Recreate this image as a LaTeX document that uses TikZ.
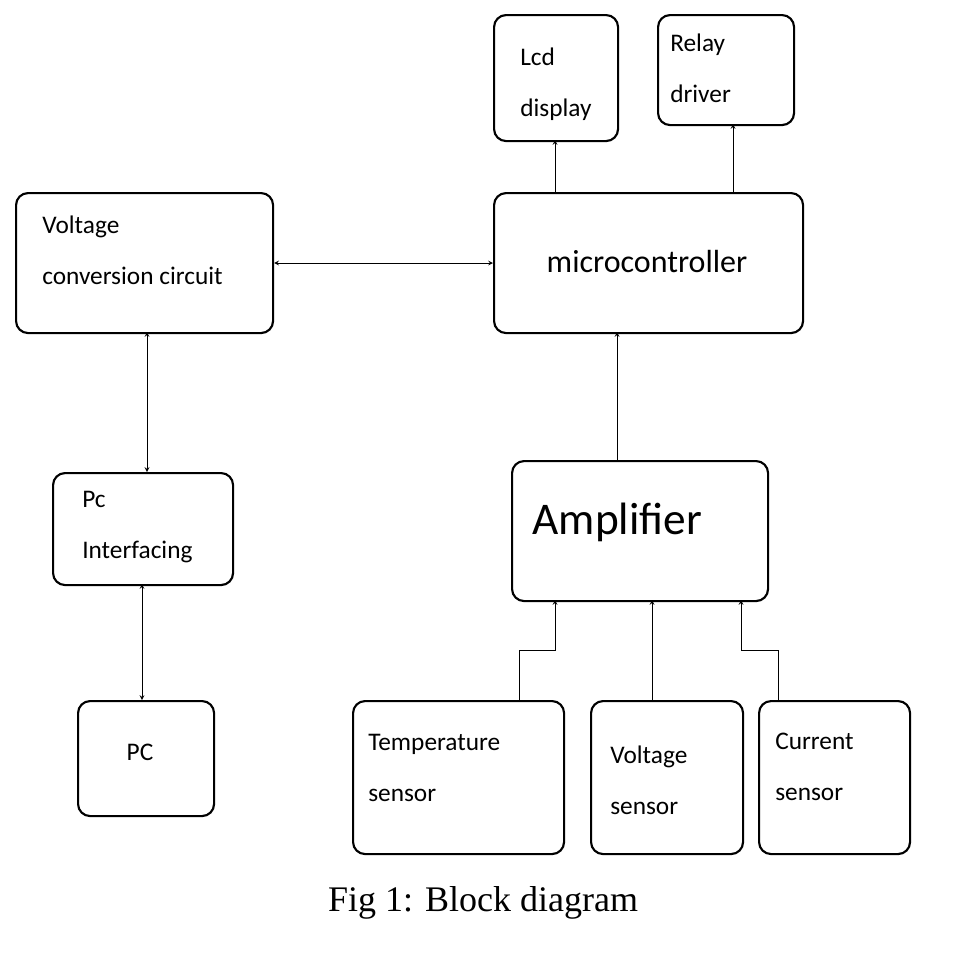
\documentclass[tikz,border=0pt]{standalone}
\usepackage{fontspec}
\setmainfont{Carlito}
\newfontfamily\capfont{Liberation Serif}
\begin{document}
\begin{tikzpicture}[x=0.75pt,y=-0.75pt,
  box/.style={draw,line width=1.6pt,rounded corners=9pt,anchor=north west,inner sep=0pt},
  lab/.style={anchor=north west,align=left,font=\fontsize{19}{38}\selectfont,inner sep=0pt},
  arr/.style={->,>=stealth,semithick},
  darr/.style={<->,>=stealth,semithick}]
\useasboundingbox (0,0) rectangle (958,953);
\node[box,minimum width=124*0.75pt,minimum height=126*0.75pt] (lcd) at (493,14) {};
\node[lab] at (520,48) {Lcd\\display};
\node[box,minimum width=136*0.75pt,minimum height=110*0.75pt] (relay) at (657,14) {};
\node[lab] at (670,34) {Relay\\driver};
\node[box,minimum width=257*0.75pt,minimum height=140*0.75pt] (vcc) at (15,192) {};
\node[lab] at (42,216) {Voltage\\conversion circuit};
\node[box,minimum width=309*0.75pt,minimum height=140*0.75pt] (mc) at (493,192) {};
\node[anchor=center,font=\fontsize{24}{28}\selectfont] at (647,262) {microcontroller};
\node[box,minimum width=180*0.75pt,minimum height=112*0.75pt] (pci) at (52,472) {};
\node[lab] at (82,491) {Pc\\Interfacing};
\node[box,minimum width=256*0.75pt,minimum height=140*0.75pt] (amp) at (511,460) {};
\node[anchor=west,font=\fontsize{34}{38}\selectfont] at (528,522) {Amplifier};
\node[box,minimum width=136*0.75pt,minimum height=115*0.75pt] (pc) at (77,700) {};
\node[anchor=center,font=\fontsize{19}{22}\selectfont] at (140,752) {PC};
\node[box,minimum width=211*0.75pt,minimum height=153*0.75pt] (ts) at (352,700) {};
\node[lab] at (368,734) {Temperature\\sensor};
\node[box,minimum width=152*0.75pt,minimum height=153*0.75pt] (vs) at (590,700) {};
\node[lab] at (610,746) {Voltage\\sensor};
\node[box,minimum width=151*0.75pt,minimum height=153*0.75pt] (cs) at (758,700) {};
\node[lab] at (775,733) {Current\\sensor};
\node[font=\capfont\fontsize{27}{30}\selectfont] (cap) at (483,903) {Fig 1: Block diagram};
\draw[arr] (555,192) -- (555,140);
\draw[arr] (733,192) -- (733,124);
\draw[darr] (vcc.east |- 0,263) -- (mc.west |- 0,263);
\draw[darr] (147,332) -- (147,472);
\draw[darr] (142,584) -- (142,700);
\draw[arr] (617,460) -- (617,332);
\draw[arr] (519,700) -- (519,650) -- (555,650) -- (555,600);
\draw[arr] (652,700) -- (652,600);
\draw[arr] (778,700) -- (778,650) -- (741,650) -- (741,600);
\end{tikzpicture}
\end{document}
